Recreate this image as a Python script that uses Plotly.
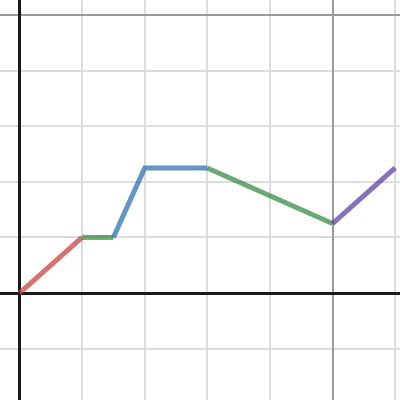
import plotly.graph_objects as go

# segment data (x, y) per coloured piece
seg_red_x = [0, 1]
seg_red_y = [0, 1]
seg_green1_x = [1, 1.5]
seg_green1_y = [1, 1]
seg_blue_x = [1.5, 2, 3]
seg_blue_y = [1, 2.25, 2.25]
seg_green2_x = [3, 5]
seg_green2_y = [2.25, 1.25]
seg_purple_x = [5, 6]
seg_purple_y = [1.25, 2.25]

segments = [
    (seg_red_x, seg_red_y, "rgba(199,68,64,0.75)"),
    (seg_green1_x, seg_green1_y, "rgba(56,140,70,0.75)"),
    (seg_blue_x, seg_blue_y, "rgba(45,112,179,0.75)"),
    (seg_green2_x, seg_green2_y, "rgba(56,140,70,0.75)"),
    (seg_purple_x, seg_purple_y, "rgba(96,66,166,0.75)"),
]

fig = go.Figure()
for xs, ys, c in segments:
    fig.add_trace(go.Scatter(x=xs, y=ys, mode="lines",
                             line=dict(color=c, width=5),
                             hoverinfo="skip", showlegend=False))

axis_common = dict(
    showticklabels=False, ticks="",
    showgrid=True, gridcolor="#9a9a9a", gridwidth=1.5, dtick=5, tick0=0,
    minor=dict(dtick=1, tick0=0, showgrid=True, gridcolor="#dcdcdc", gridwidth=1.5),
    zeroline=True, zerolinecolor="#1a1a1a", zerolinewidth=3,
    showline=False,
)

fig.update_layout(
    width=400, height=400,
    margin=dict(l=0, r=0, t=0, b=0),
    paper_bgcolor="white", plot_bgcolor="white",
    xaxis=dict(range=[-0.311, 6.078], **axis_common),
    yaxis=dict(range=[-1.924, 5.27], **axis_common),
)

fig.write_html("out.html", config={"displayModeBar": False},
               post_script="document.body.style.margin='0';document.body.style.overflow='hidden';")
